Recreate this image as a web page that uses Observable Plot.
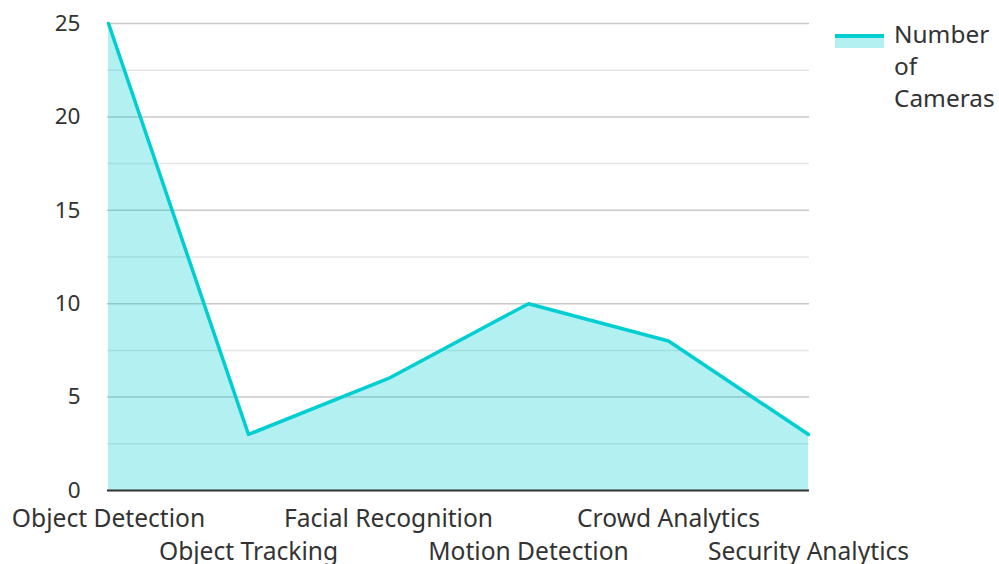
<!DOCTYPE html>
<html>
<head>
<meta charset="utf-8">
<script src="https://cdn.jsdelivr.net/npm/d3@7"></script>
<script src="https://cdn.jsdelivr.net/npm/@observablehq/plot@0.6"></script>
<style>
  html, body { margin: 0; padding: 0; background: #fff; }
  body { width: 999px; height: 564px; position: relative; overflow: hidden; font-family: "Noto Sans", "Open Sans", sans-serif; }
  #chart { position: absolute; left: 0; top: 0; }
  #legend { position: absolute; left: 835px; top: 18px; display: flex; align-items: flex-start; font-size: 24.4px; color: #333; line-height: 32px; }
  #legend .sw { width: 49px; height: 14px; margin-top: 16px; position: relative; }
  #legend .sw .fill { position: absolute; left: 0; top: 2px; width: 49px; height: 12px; background: rgba(0,206,209,0.3); }
  #legend .sw .ln { position: absolute; left: 0; top: 0; width: 49px; height: 3.5px; background: #00CED1; }
  #legend .lab { margin-left: 10px; width: 100px; }
</style>
</head>
<body>
<div id="chart"></div>
<div id="legend"><div class="sw"><div class="fill"></div><div class="ln"></div></div><div class="lab">Number of Cameras</div></div>
<script>
const categories = ["Object Detection", "Object Tracking", "Facial Recognition", "Motion Detection", "Crowd Analytics", "Security Analytics"];
const cameras = [25, 3, 6, 10, 8, 3];
const yTicks = [0, 5, 10, 15, 20, 25];
const minorTicks = [2.5, 7.5, 12.5, 17.5, 22.5];

const data = categories.map((c, i) => ({category: c, value: cameras[i]}));
const rowA = categories.filter((c, i) => i % 2 === 0);
const rowB = categories.filter((c, i) => i % 2 === 1);

const chart = Plot.plot({
  width: 999,
  height: 564,
  marginLeft: 107,
  marginRight: 190,
  marginTop: 23,
  marginBottom: 74,
  style: {fontFamily: '"Noto Sans", "Open Sans", sans-serif', fontSize: "22px", color: "#333", background: "transparent", overflow: "visible"},
  x: {type: "point", domain: categories, padding: 0},
  y: {domain: [0, 25]},
  marks: [
    Plot.ruleY(minorTicks, {stroke: "#e6e6e6", strokeWidth: 1.5}),
    Plot.ruleY(yTicks.filter(d => d > 0), {stroke: "#c8c8c8", strokeWidth: 1.5}),
    Plot.areaY(data, {x: "category", y: "value", fill: "#00CED1", fillOpacity: 0.3}),
    Plot.ruleY([0], {stroke: "#333", strokeWidth: 2}),
    Plot.lineY(data, {x: "category", y: "value", stroke: "#00CED1", strokeWidth: 3.5}),
    Plot.axisY({ticks: yTicks, tickSize: 0, tickPadding: 27, fontSize: 22.5, fill: "#333", label: null}),
    Plot.axisX({ticks: rowA, tickSize: 0, tickPadding: 19, fontSize: 24.6, fill: "#333", label: null}),
    Plot.axisX({ticks: rowB, tickSize: 0, tickPadding: 52, fontSize: 24.6, fill: "#333", label: null})
  ]
});
document.getElementById("chart").appendChild(chart);
</script>
</body>
</html>
